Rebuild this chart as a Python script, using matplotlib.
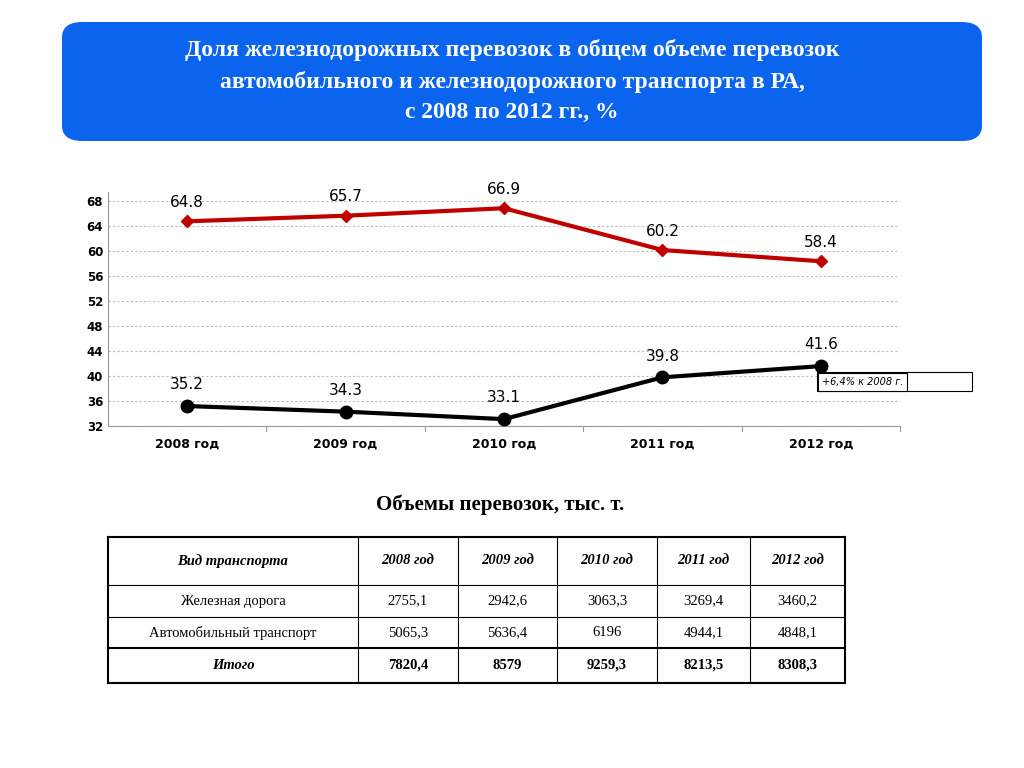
import matplotlib.pyplot as plt
from matplotlib.patches import FancyBboxPatch

years = ['2008 год', '2009 год', '2010 год', '2011 год', '2012 год']
auto_share = [64.8, 65.7, 66.9, 60.2, 58.4]
rail_share = [35.2, 34.3, 33.1, 39.8, 41.6]
yticks = [32, 36, 40, 44, 48, 52, 56, 60, 64, 68]

tbl_header = ['Вид транспорта'] + years
tbl_rows = [
    ['Железная дорога', '2755,1', '2942,6', '3063,3', '3269,4', '3460,2'],
    ['Автомобильный транспорт', '5065,3', '5636,4', '6196', '4944,1', '4848,1'],
    ['Итого', '7820,4', '8579', '9259,3', '8213,5', '8308,3'],
]

W, H = 1024, 768
fig = plt.figure(figsize=(10.24, 7.68), dpi=100)

# title box
box = FancyBboxPatch((62 / W, 1 - 141 / H), 920 / W, 119 / H,
                     boxstyle='round,pad=0,rounding_size=0.02',
                     transform=fig.transFigure, fc='#0a64ee', ec='none')
fig.patches.append(box)
fig.text(0.5, 1 - 81 / H,
         'Доля железнодорожных перевозок в общем объеме перевозок\n'
         'автомобильного и железнодорожного транспорта в РА,\nс 2008 по 2012 гг., %',
         ha='center', va='center', color='white', fontsize=17, fontweight='bold',
         family='Liberation Serif', linespacing=1.6)

# line chart
ax = fig.add_axes([108 / W, 1 - 426 / H, 792 / W, 234 / H])
x = range(len(years))
ax.plot(x, auto_share, color='#c00000', lw=3, marker='D', ms=6, zorder=3)
ax.plot(x, rail_share, color='black', lw=3, marker='o', ms=9, zorder=3)
for i in x:
    ax.text(i, auto_share[i] + 1.8, str(auto_share[i]), ha='center', va='bottom', fontsize=11)
    ax.text(i, rail_share[i] + 2.2, str(rail_share[i]), ha='center', va='bottom', fontsize=11)
ax.set_xlim(-0.5, 4.5)
ax.set_ylim(32, 69.5)
ax.set_yticks(yticks)
ax.set_xticks(list(x))
ax.set_xticklabels(years, fontsize=9, fontweight='bold')
ax.tick_params(axis='y', labelsize=8.5, length=0)
for t in ax.get_yticklabels():
    t.set_fontweight('bold')
ax.tick_params(axis='x', length=0, pad=8)
ax.grid(axis='y', color='#bbbbbb', ls=(0, (2, 2)), lw=0.8)
for s in ['top', 'right']:
    ax.spines[s].set_visible(False)
ax.spines['left'].set_color('#999999')
ax.spines['bottom'].set_color('#999999')
for xv in [0.5, 1.5, 2.5, 3.5, 4.5]:
    ax.plot([xv, xv], [32, 31.2], color='#999999', lw=0.8, clip_on=False)

fig.text(822 / W, 1 - 382 / H, '+6,4% к 2008 г.', fontsize=7, style='italic', va='center',
         bbox=dict(boxstyle='square,pad=0.4', fc='white', ec='black', lw=0.8))
fig.patches.append(plt.Rectangle((817 / W, 1 - 391 / H), 155 / W, 19 / H,
                                 transform=fig.transFigure, fc='none', ec='black', lw=0.8))

fig.text(0.488, 1 - 505 / H, 'Объемы перевозок, тыс. т.', ha='center', va='center',
         fontsize=15, fontweight='bold', family='Liberation Serif')

# table
cols = [108, 358, 458, 557, 657, 750, 845]
rows = [537, 585, 617, 648, 683]
for yy in rows:
    lw = 1.5 if yy in (537, 683, 648) else 0.8
    fig.add_artist(plt.Line2D([cols[0] / W, cols[-1] / W], [1 - yy / H] * 2, color='black', lw=lw))
for xx in cols:
    lw = 1.5 if xx in (108, 845) else 0.8
    fig.add_artist(plt.Line2D([xx / W] * 2, [1 - 537 / H, 1 - 683 / H], color='black', lw=lw))
all_rows = [tbl_header] + tbl_rows
for r, row in enumerate(all_rows):
    yc = 1 - (rows[r] + rows[r + 1]) / 2 / H
    for c, val in enumerate(row):
        xc = (cols[c] + cols[c + 1]) / 2 / W
        st = 'italic' if r in (0, 3) and (c == 0 or r == 0) else 'normal'
        fw = 'bold' if r in (0, 3) else 'normal'
        fig.text(xc, yc, val, ha='center', va='center', fontsize=10.5,
                 family='Liberation Serif', style=st, fontweight=fw)

fig.savefig('out.png')
